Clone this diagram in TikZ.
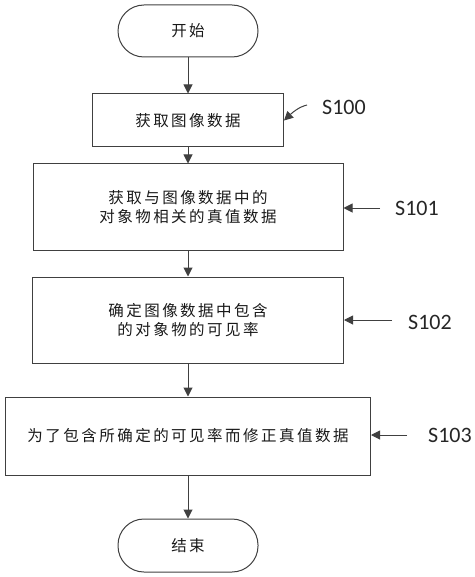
\documentclass[tikz,border=0pt]{standalone}
\usepackage{fontspec}
\setmainfont{Carlito}
\newfontfamily\cjk[LetterSpace=16]{Noto Sans CJK SC}
\usetikzlibrary{arrows.meta}
\definecolor{linegray}{gray}{0.25}
\begin{document}
\begin{tikzpicture}[x=1pt,y=-1pt,
  box/.style={draw=linegray,line width=1pt,rectangle,inner sep=0pt,align=center,
    font=\cjk\fontsize{15.5}{18.5}\selectfont,text=black!90},
  term/.style={box,rounded corners=26pt},
  flow/.style={draw=linegray,line width=1pt,-{Triangle[length=9pt,width=9pt]}},
  lbl/.style={font=\fontsize{22}{24}\selectfont,text=black!85,inner sep=0pt}]
\useasboundingbox (0,0) rectangle (474,577);
\node[term,minimum width=140pt,minimum height=52pt] (start) at (188,31) {开始};
\node[box,minimum width=191pt,minimum height=53pt] (s0) at (188,120.5) {获取图像数据};
\node[box,minimum width=310pt,minimum height=86pt] (s1) at (188,207) {获取与图像数据中的\\对象物相关的真值数据};
\node[box,minimum width=311pt,minimum height=86pt] (s2) at (188,320) {确定图像数据中包含\\的对象物的可见率};
\node[box,minimum width=365pt,minimum height=78pt] (s3) at (188,436) {为了包含所确定的可见率而修正真值数据};
\node[term,minimum width=140pt,minimum height=53pt] (end) at (188,545.5) {结束};
\draw[flow] (start) -- (s0);
\draw[flow] (s0) -- (s1);
\draw[flow] (s1) -- (s2);
\draw[flow] (s2) -- (s3);
\draw[flow] (s3) -- (end);
\node[lbl] (l0) at (344,107) {S100};
\node[lbl] (l1) at (417,208) {S101};
\node[lbl] (l2) at (430,322) {S102};
\node[lbl] (l3) at (450,435) {S103};
\coordinate (c0) at (307,105);
\coordinate (c1) at (380,208);
\coordinate (c2) at (392,320);
\coordinate (c3) at (407,435);
\draw[flow] (c0) .. controls (299,107) and (293,112) .. (s0.east);
\draw[flow] (c1) -- (c1 -| s1.east);
\draw[flow] (c2) -- (c2 -| s2.east);
\draw[flow] (c3) -- (c3 -| s3.east);
\end{tikzpicture}
\end{document}
